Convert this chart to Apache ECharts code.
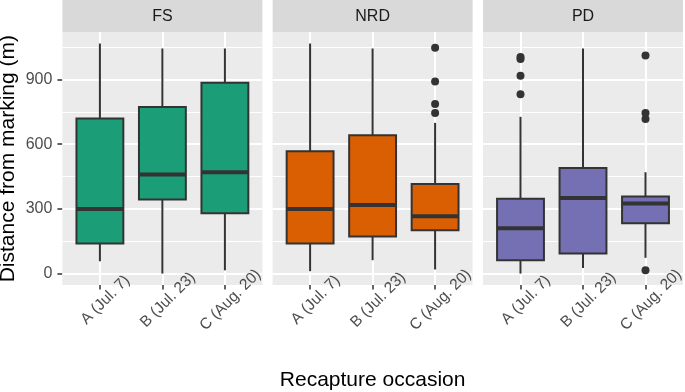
<!DOCTYPE html>
<html>
<head>
<meta charset="utf-8">
<script src="https://cdn.jsdelivr.net/npm/echarts@6/dist/echarts.min.js"></script>
<style>
  html, body { margin: 0; padding: 0; background: #fff; }
  #chart { width: 685px; height: 392px; }
</style>
</head>
<body>
<div id="chart"></div>
<script>
// 分面箱线图 (FS / NRD / PD)
const categories = ['A (Jul. 7)', 'B (Jul. 23)', 'C (Aug. 20)']
const panels = ['FS', 'NRD', 'PD']
const panelColors = ['#1B9E77', '#D95F02', '#7570B3']

// [min, Q1, median, Q3, max] per category
const fsBox = [[57, 139, 300, 719, 1067], [0, 343, 459, 772, 1044], [15, 280, 470, 885, 1044]]
const nrdBox = [[11, 139, 300, 567, 1067], [62, 172, 318, 642, 1044], [19, 201, 266, 416, 699]]
const pdBox = [[0, 62, 210, 347, 727], [26, 93, 350, 490, 1044], [73, 233, 325, 357, 470]]

// outliers: [category index, value]
const fsOut = []
const nrdOut = [[2, 1047], [2, 891], [2, 787], [2, 745]]
const pdOut = [[0, 1005], [0, 995], [0, 918], [0, 832], [2, 1011], [2, 745], [2, 717], [2, 15]]

const majorTicks = [0, 300, 600, 900]
const minorTicks = [150, 450, 750, 1050]
const catTicks = [0, 1, 2]

const boxes = [fsBox, nrdBox, pdBox]
const outs = [fsOut, nrdOut, pdOut]

const font = 'Liberation Sans, Arial, sans-serif'
const panelLeft = [62.4, 272.6, 483]
const panelWidth = 200
const panelTop = 32.3
const panelHeight = 252.7

const myChart = echarts.init(document.getElementById('chart'))

function renderBox(params, api) {
  const i = api.value(0)
  const color = panelColors[params.seriesIndex / 3 | 0]
  const half = api.size([0.75, 0])[0] / 2
  const pMin = api.coord([i, api.value(1)])
  const pQ1 = api.coord([i, api.value(2)])
  const pMed = api.coord([i, api.value(3)])
  const pQ3 = api.coord([i, api.value(4)])
  const pMax = api.coord([i, api.value(5)])
  const line = { stroke: '#333333', lineWidth: 2 }
  return {
    type: 'group',
    children: [
      { type: 'line', shape: { x1: pMax[0], y1: pMax[1], x2: pQ3[0], y2: pQ3[1] }, style: line },
      { type: 'line', shape: { x1: pQ1[0], y1: pQ1[1], x2: pMin[0], y2: pMin[1] }, style: line },
      {
        type: 'rect',
        shape: { x: pQ3[0] - half, y: pQ3[1], width: half * 2, height: pQ1[1] - pQ3[1] },
        style: { fill: color, stroke: '#333333', lineWidth: 2 }
      },
      { type: 'line', shape: { x1: pMed[0] - half, y1: pMed[1], x2: pMed[0] + half, y2: pMed[1] }, style: { stroke: '#333333', lineWidth: 4 } }
    ]
  }
}

const grids = []
const xAxes = []
const yAxes = []
const series = []
const graphics = []

panels.forEach((name, k) => {
  grids.push({
    left: panelLeft[k], top: panelTop, width: panelWidth, height: panelHeight,
    containLabel: false, outerBoundsMode: 'none',
    show: true, backgroundColor: '#EBEBEB', borderWidth: 0
  })
  xAxes.push({
    gridIndex: k,
    type: 'value',
    z: 4,
    min: -0.6,
    max: 2.6,
    axisLine: { show: false, onZero: false },
    splitLine: { show: false },
    axisTick: { show: true, customValues: catTicks, length: 4.5, lineStyle: { color: '#333333', width: 1.5 } },
    axisLabel: {
      customValues: catTicks,
      formatter: v => categories[v],
      rotate: 45,
      align: 'center',
      verticalAlign: 'top',
      lineHeight: 15.6,
      margin: 9.5,
      fontSize: 15.5,
      fontFamily: font,
      color: '#4D4D4D'
    },
    name: k === 1 ? 'Recapture occasion' : '',
    nameLocation: 'middle',
    nameGap: 85,
    nameTextStyle: { fontSize: 21, fontFamily: font, color: '#000' }
  })
  yAxes.push({
    gridIndex: k,
    type: 'value',
    min: -53,
    max: 1119,
    axisLine: { show: false, onZero: false },
    splitLine: { show: false },
    axisTick: { show: k === 0, customValues: majorTicks, length: 5, lineStyle: { color: '#333333', width: 1.5 } },
    axisLabel: {
      show: k === 0,
      customValues: majorTicks,
      margin: 10,
      fontSize: 16,
      fontFamily: font,
      color: '#4D4D4D'
    },
    name: k === 0 ? 'Distance from marking (m)' : '',
    nameLocation: 'middle',
    nameGap: 44,
    nameTextStyle: { fontSize: 21, fontFamily: font, color: '#000' }
  })

  // gridlines
  series.push({
    type: 'scatter',
    xAxisIndex: k,
    yAxisIndex: k,
    data: [],
    z: 0,
    markLine: {
      silent: true,
      z: 1,
      symbol: ['none', 'none'],
      label: { show: false },
      animation: false,
      lineStyle: { color: '#FFFFFF', type: 'solid' },
      data: [
        ...minorTicks.map(v => ({ yAxis: v, lineStyle: { width: 1 } })),
        ...majorTicks.map(v => ({ yAxis: v, lineStyle: { width: 2 } })),
        ...catTicks.map(v => ({ xAxis: v, lineStyle: { width: 2 } }))
      ]
    }
  })
  // boxes
  series.push({
    type: 'custom',
    xAxisIndex: k,
    yAxisIndex: k,
    z: 2,
    renderItem: renderBox,
    encode: { x: 0, y: [1, 2, 3, 4, 5] },
    data: boxes[k].map((b, i) => [i].concat(b))
  })
  // outliers
  series.push({
    type: 'scatter',
    xAxisIndex: k,
    yAxisIndex: k,
    z: 3,
    symbolSize: 8,
    itemStyle: { color: '#333333', opacity: 1 },
    data: outs[k]
  })

  // strip
  graphics.push({
    type: 'rect',
    shape: { x: panelLeft[k], y: 0, width: panelWidth, height: panelTop },
    style: { fill: '#D9D9D9' }
  })
  graphics.push({
    type: 'text',
    x: panelLeft[k] + panelWidth / 2,
    y: panelTop / 2,
    style: { text: name, fontSize: 16, fontFamily: font, fill: '#1A1A1A', align: 'center', verticalAlign: 'middle' }
  })
})

const options = {
  backgroundColor: '#FFFFFF',
  animation: false,
  grid: grids,
  xAxis: xAxes,
  yAxis: yAxes,
  series: series,
  graphic: graphics
}

myChart.setOption(options)
</script>
</body>
</html>
